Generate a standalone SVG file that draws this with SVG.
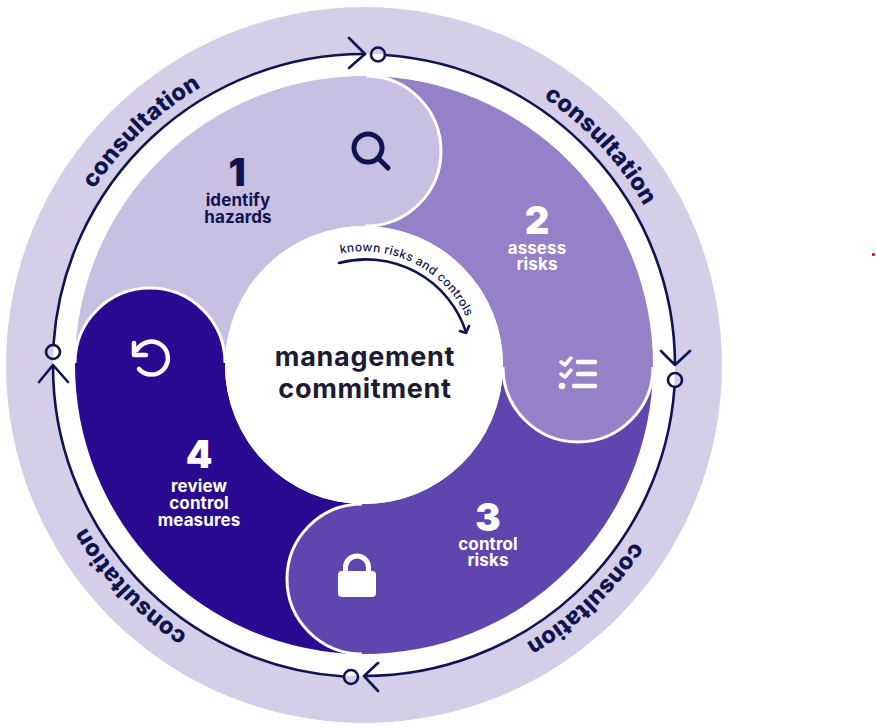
<svg xmlns="http://www.w3.org/2000/svg" width="876" height="727" viewBox="0 0 876 727">
<style>
text{font-family:"Inter","Liberation Sans",sans-serif;font-weight:700;text-anchor:middle}
.cons{font-size:23.5px;font-weight:800;fill:#0f1450;letter-spacing:.2px}
.num{font-size:38px;font-weight:900;fill:#fff}
.lab{font-size:17px;fill:#fff;font-weight:700;letter-spacing:.1px}
.dk{fill:#0f1450}
.main{font-size:27px;letter-spacing:.7px;fill:#1b1b33}
.small{font-size:12px;font-weight:500;fill:#0f1450;letter-spacing:.35px}
.edge{fill:none;stroke:#fff;stroke-width:3}
.ln{fill:none;stroke:#0f1450;stroke-width:2.6;stroke-linecap:round;stroke-linejoin:round}
.ic{fill:none;stroke:#fff;stroke-width:4.5;stroke-linecap:round;stroke-linejoin:round}
</style>
<defs>
<path id="a1" d="M43.3,336.9 A322 322 0 0 1 335.9,44.2"/>
<path id="a2" d="M392.1,44.2 A322 322 0 0 1 684.7,336.9"/>
<path id="a3" d="M684.7,393.1 A322 322 0 0 1 392.1,685.8"/>
<path id="a4" d="M335.9,685.8 A322 322 0 0 1 43.3,393.1"/>
<path id="a5" d="M322,259 A114 114 0 0 1 473,335"/>
</defs>
<g id="ring">
<circle cx="364" cy="365" r="358" fill="#d4cee9"/>
<circle cx="364" cy="365" r="311" fill="#fff"/>
</g>
<g id="step-1">
<path fill="#c7c0e3" d="M75,363 A289 289 0 0 1 366.7,76 A75 75 0 0 1 365.3,226 A139 139 0 0 0 225,363.4 Z"/>
</g>
<g id="step-4">
<path fill="#2a0a91" d="M362,654 A289 289 0 0 1 75,363 A75 75 0 0 1 225,363 A139 139 0 0 0 362,504 Z"/>
<path class="edge" d="M75,363 A75 75 0 0 1 225,363"/>
<path class="ic" d="M134,343 V355 H146 M137,350 A16.500 16.500 0 1 1 139,369"/>
<text class="num" x="199" y="468">4</text>
<text class="lab" x="199" y="492">review</text>
<text class="lab" x="199" y="509">control</text>
<text class="lab" x="199" y="526">measures</text>
</g>
<g id="step-3">
<path fill="#5f46af" d="M653,367 A289 289 0 0 1 362,654 A75 75 0 0 1 362,504 A139 139 0 0 0 503,367 Z"/>
<path class="edge" d="M362,654 A75 75 0 0 1 362,504"/>
<rect x="338" y="571" width="38" height="26" rx="4" fill="#fff"/>
<path class="ic" style="stroke-width:5" d="M345.500,573 V567.500 A11.500 11.500 0 0 1 368.500,567.500 V573"/>
<text class="num" x="488" y="531">3</text>
<text class="lab" x="488" y="550">control</text>
<text class="lab" x="488" y="566">risks</text>
</g>
<g id="step-2">
<path fill="#9581c8" d="M366.700,76 A289 289 0 0 1 653,367 A75 75 0 0 1 503,367 A139 139 0 0 0 365.300,226 A75 75 0 0 0 366.700,76 Z"/>
<path class="edge" d="M653,367 A75 75 0 0 1 503,367"/>
<path class="ic" style="stroke-width:3.500" d="M561,362 L565,365 L571,358 M561,374 L565,377 L571,370"/>
<circle cx="562" cy="386" r="3.300" fill="#fff"/>
<path class="ic" d="M578,362 H595 M578,374 H595 M574,386 H595"/>
<text class="num" x="537" y="234">2</text>
<text class="lab" x="537" y="254">assess</text>
<text class="lab" x="537" y="270">risks</text>
</g>
<g id="step-1-front">
<path class="edge" d="M366.700,76 A75 75 0 0 1 365.300,226"/>
<circle cx="368" cy="148" r="14" fill="none" stroke="#0f1450" stroke-width="5"/>
<path d="M378,158 L388,168" fill="none" stroke="#0f1450" stroke-width="5" stroke-linecap="round"/>
<text class="num dk" x="237" y="186">1</text>
<text class="lab dk" x="238" y="206">identify</text>
<text class="lab dk" x="238" y="223">hazards</text>
</g>
<g id="centre">
<circle cx="364" cy="365" r="139" fill="#fff"/>
<text class="main" x="365" y="366">management</text>
<text class="main" x="365" y="398">commitment</text>
<path class="ln" d="M339,263 A105 105 0 0 1 466,332"/>
<path class="ln" d="M460,331 L466,333 L469,326"/>
<text class="small"><textPath href="#a5" startOffset="50%">known risks and controls</textPath></text>
</g>
<g id="connectors">
<path class="ln" d="M385,55 A311 311 0 0 1 675,365 M349,38 L365,54 L349,68 M661,351 L675,365 L690,351"/>
<path class="ln" d="M674.500,387.500 A311 311 0 0 1 364,676 M378,663 L364,676 L378,691"/>
<path class="ln" d="M343.500,676.500 A311 311 0 0 1 53,365 M39,382 L53,365 L68,382"/>
<path class="ln" d="M53.500,344.500 A311 311 0 0 1 365,54"/>
<circle class="ln" cx="378" cy="54.500" r="7"/>
<circle class="ln" cx="675" cy="380" r="7"/>
<circle class="ln" cx="351" cy="677" r="7"/>
<circle class="ln" cx="53" cy="352" r="7"/>
</g>
<g id="consultation">
<text class="cons"><textPath href="#a1" startOffset="51.700%">consultation</textPath></text>
<text class="cons"><textPath href="#a2" startOffset="52.700%">consultation</textPath></text>
<text class="cons"><textPath href="#a3" startOffset="51.900%">consultation</textPath></text>
<text class="cons"><textPath href="#a4" startOffset="51.900%">consultation</textPath></text>
</g>
<rect x="872" y="253" width="3" height="3" fill="#e8202a"/>
</svg>
